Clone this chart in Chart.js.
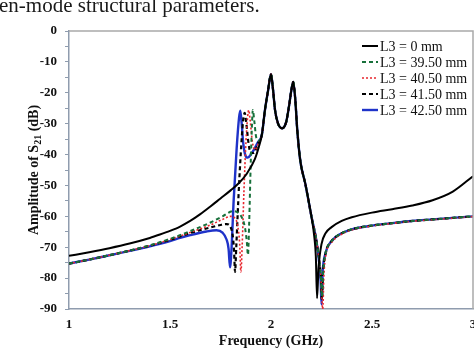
<!DOCTYPE html>
<html>
<head>
<meta charset="utf-8">
<script src="https://cdn.jsdelivr.net/npm/chart.js@4.4.1/dist/chart.umd.min.js"></script>
<style>
  html, body { margin: 0; padding: 0; background: #fff; overflow: hidden; }
  #wrap { width: 474px; height: 348px; position: relative; }
</style>
</head>
<body>
<div id="wrap"><canvas id="c" width="474" height="348"></canvas></div>
<script>
// Series names (legend order)
const seriesLabels = ['L3 = 0 mm', 'L3 = 39.50 mm', 'L3 = 40.50 mm', 'L3 = 41.50 mm', 'L3 = 42.50 mm'];

// L3 = 0 mm : frequency (GHz) and |S21| (dB)
const freqL0 = [1.0, 1.1, 1.2, 1.3, 1.4, 1.45, 1.5, 1.55, 1.6, 1.65, 1.7, 1.75, 1.8, 1.84, 1.88, 1.92, 1.94, 1.955, 1.97, 1.985, 2.0,
  2.01, 2.02, 2.035, 2.055, 2.075, 2.09, 2.1, 2.11, 2.12, 2.13, 2.145, 2.17, 2.2, 2.215, 2.222, 2.228, 2.235, 2.25, 2.27,
  2.3, 2.35, 2.4, 2.5, 2.6, 2.7, 2.8, 2.9, 3.0];
const dbL0 = [-72.8, -71.6, -70.3, -68.8, -67, -65.9, -64.7, -63.3, -61.5, -59.3, -56.8, -54.2, -51.6, -49.3, -46.2, -41.5, -37.5, -33.5, -25.6, -19.5, -14,
  -19, -25.6, -30, -31.5, -29.5, -24, -19.5, -16.5, -22, -32, -42, -49.5, -60, -67, -73, -86.5, -77, -69, -65.5,
  -63.5, -61.5, -60.3, -58.8, -57.7, -56.5, -54.8, -52, -47];

// L3 = 39.50 mm
const freqL39 = [1.0, 1.1, 1.2, 1.3, 1.4, 1.5, 1.6, 1.7, 1.76, 1.813, 1.84, 1.86, 1.872, 1.88, 1.886, 1.892, 1.9, 1.906, 1.91,
  1.917, 1.927, 1.94, 1.955, 1.97, 1.985, 2.0, 2.01, 2.02, 2.035, 2.055, 2.075, 2.09, 2.1, 2.11, 2.12, 2.13, 2.145, 2.17, 2.2,
  2.225, 2.24, 2.247, 2.252, 2.258, 2.27, 2.3, 2.35, 2.4, 2.5, 2.6, 2.7, 2.8, 2.9, 3.0];
const dbL39 = [-75.3, -74, -72.6, -71.1, -69.4, -67.3, -64.8, -62, -60, -58.3, -59, -61, -64, -68, -72.5, -62, -42, -30, -25.6,
  -29, -34.5, -35.5, -33.5, -25.6, -19.5, -14, -19, -25.6, -30, -31.5, -29.5, -24, -19.5, -16.5, -22, -32, -42, -49.5, -60,
  -68, -75, -80, -86, -78, -72, -68, -65.5, -64.2, -63, -62.2, -61.5, -61, -60.5, -60];

// L3 = 40.50 mm
const freqL40 = [1.0, 1.1, 1.2, 1.3, 1.4, 1.5, 1.6, 1.7, 1.76, 1.8, 1.82, 1.835, 1.845, 1.851, 1.857, 1.866, 1.876, 1.884, 1.89,
  1.897, 1.907, 1.92, 1.937, 1.955, 1.97, 1.985, 2.0, 2.01, 2.02, 2.035, 2.055, 2.075, 2.09, 2.1, 2.11, 2.12, 2.13, 2.145, 2.17, 2.2,
  2.225, 2.24, 2.248, 2.256, 2.262, 2.27, 2.3, 2.35, 2.4, 2.5, 2.6, 2.7, 2.8, 2.9, 3.0];
const dbL40 = [-75.3, -74, -72.6, -71.1, -69.5, -67.5, -65.2, -62.8, -61, -60, -60.5, -63, -69, -78, -70, -52, -36, -28, -25.6,
  -29, -35.5, -38.5, -36.5, -33.5, -25.6, -19.5, -14, -19, -25.6, -30, -31.5, -29.5, -24, -19.5, -16.5, -22, -32, -42, -49.5, -60,
  -68, -75, -81, -90, -79, -73, -68.5, -65.8, -64.4, -63.1, -62.3, -61.6, -61.1, -60.6, -60.1];

// L3 = 41.50 mm
const freqL41 = [1.0, 1.1, 1.2, 1.3, 1.4, 1.5, 1.6, 1.7, 1.75, 1.78, 1.8, 1.81, 1.817, 1.822, 1.828, 1.838, 1.85, 1.862, 1.87,
  1.878, 1.888, 1.9, 1.915, 1.935, 1.955, 1.97, 1.985, 2.0, 2.01, 2.02, 2.035, 2.055, 2.075, 2.09, 2.1, 2.11, 2.12, 2.13, 2.145,
  2.17, 2.2, 2.225, 2.24, 2.247, 2.252, 2.258, 2.27, 2.3, 2.35, 2.4, 2.5, 2.6, 2.7, 2.8, 2.9, 3.0];
const dbL41 = [-75.3, -74, -72.6, -71.1, -69.5, -67.6, -65.4, -63.6, -62.8, -62.5, -63.5, -66, -71, -78, -70, -55, -40, -29, -26.5,
  -30, -36, -39.5, -39.5, -36.5, -33.5, -25.6, -19.5, -14, -19, -25.6, -30, -31.5, -29.5, -24, -19.5, -16.5, -22, -32, -42,
  -49.5, -60, -68, -75, -80, -87, -78, -72, -68, -65.5, -64.2, -63, -62.2, -61.5, -61, -60.5, -60];

// L3 = 42.50 mm
const freqL42 = [1.0, 1.1, 1.2, 1.3, 1.4, 1.5, 1.55, 1.6, 1.68, 1.73, 1.76, 1.78, 1.79, 1.797, 1.805, 1.815, 1.83, 1.842, 1.848,
  1.855, 1.862, 1.872, 1.885, 1.9, 1.915, 1.935, 1.955, 1.97, 1.985, 2.0, 2.01, 2.02, 2.035, 2.055, 2.075, 2.09, 2.1, 2.11, 2.12,
  2.13, 2.145, 2.17, 2.2, 2.225, 2.24, 2.246, 2.25, 2.256, 2.27, 2.3, 2.35, 2.4, 2.5, 2.6, 2.7, 2.8, 2.9, 3.0];
const dbL42 = [-75.3, -74, -72.6, -71.2, -69.7, -68, -67, -66.1, -64.9, -64.5, -65.3, -67.5, -70.5, -76.5, -70, -55, -38, -28, -25.8,
  -30, -36, -40, -41, -40, -38.5, -36, -33.5, -25.6, -19.5, -14, -19, -25.6, -30, -31.5, -29.5, -24, -19.5, -16.5, -22,
  -32, -42, -49.5, -60, -68, -76, -81, -88.5, -78, -72, -68, -65.5, -64.2, -63, -62.2, -61.5, -61, -60.5, -60];

const serif = "'Liberation Serif', 'Times New Roman', serif";
const axisColor = '#8f9cae';

function toPoints(fs, ds) { return fs.map((f, i) => ({ x: f, y: ds[i] })); }

const datasets = [
  { label: seriesLabels[0], data: toPoints(freqL0, dbL0),   borderColor: '#000000', borderWidth: 2,   borderDash: [] },
  { label: seriesLabels[1], data: toPoints(freqL39, dbL39), borderColor: '#17703a', borderWidth: 2,   borderDash: [4, 3] },
  { label: seriesLabels[2], data: toPoints(freqL40, dbL40), borderColor: '#e8262e', borderWidth: 1.6, borderDash: [2, 2] },
  { label: seriesLabels[3], data: toPoints(freqL41, dbL41), borderColor: '#000000', borderWidth: 2.2, borderDash: [4, 3] },
  { label: seriesLabels[4], data: toPoints(freqL42, dbL42), borderColor: '#1f33c9', borderWidth: 2.4, borderDash: [] }
];

// Caption fragment, axis titles, frame and legend drawn on the canvas
const decorations = {
  id: 'decorations',
  afterDatasetsDraw(chart) {
    const ctx = chart.ctx;
    const a = chart.chartArea;
    ctx.save();

    // top and right frame lines
    ctx.strokeStyle = '#a9a9a9';
    ctx.lineWidth = 1.5;
    ctx.beginPath();
    ctx.moveTo(a.left, a.top); ctx.lineTo(a.right, a.top); ctx.lineTo(a.right, a.bottom);
    ctx.stroke();

    // legend inside the plot
    const lx = 362, lw = 16, ly0 = 46, step = 16;
    chart.data.datasets.forEach((ds, i) => {
      const y = ly0 + i * step;
      ctx.save();
      ctx.strokeStyle = ds.borderColor;
      ctx.lineWidth = ds.borderWidth;
      ctx.setLineDash(ds.borderDash);
      ctx.beginPath(); ctx.moveTo(lx, y); ctx.lineTo(lx + lw, y); ctx.stroke();
      ctx.restore();
      ctx.fillStyle = '#111';
      ctx.font = '14px ' + serif;
      ctx.textBaseline = 'middle';
      ctx.textAlign = 'left';
      ctx.fillText(ds.label, lx + lw + 2, y + 1);
    });

    // caption line above the chart
    ctx.fillStyle = '#1a1a1a';
    ctx.font = '21px ' + serif;
    ctx.textBaseline = 'alphabetic';
    ctx.textAlign = 'left';
    ctx.fillText('en-mode structural parameters.', -1, 12);

    // x axis title
    ctx.fillStyle = '#111';
    ctx.font = 'bold 14px ' + serif;
    ctx.textAlign = 'center';
    ctx.textBaseline = 'middle';
    ctx.fillText('Frequency (GHz)', (a.left + a.right) / 2, 341);

    // y axis title with subscript
    const main = 'bold 14px ' + serif, sub = 'bold 10px ' + serif;
    const p1 = 'Amplitude of S', p2 = '21', p3 = ' (dB)';
    ctx.font = main; const w1 = ctx.measureText(p1).width, w3 = ctx.measureText(p3).width;
    ctx.font = sub; const w2 = ctx.measureText(p2).width;
    const total = w1 + w2 + w3;
    ctx.translate(33, (a.top + a.bottom) / 2);
    ctx.rotate(-Math.PI / 2);
    ctx.textAlign = 'left';
    ctx.textBaseline = 'alphabetic';
    let x = -total / 2;
    ctx.font = main; ctx.fillText(p1, x, 5); x += w1;
    ctx.font = sub;  ctx.fillText(p2, x, 8); x += w2;
    ctx.font = main; ctx.fillText(p3, x, 5);

    ctx.restore();
  }
};

new Chart(document.getElementById('c'), {
  type: 'line',
  data: { datasets },
  options: {
    responsive: false,
    animation: false,
    devicePixelRatio: 1,
    layout: { padding: { top: 31, right: 1, left: 0, bottom: 0 } },
    plugins: { legend: { display: false }, tooltip: { enabled: false } },
    elements: {
      point: { radius: 0 },
      line: { cubicInterpolationMode: 'monotone', fill: false }
    },
    scales: {
      x: {
        type: 'linear', min: 1, max: 3,
        ticks: { stepSize: 0.5, autoSkip: false, maxRotation: 0, padding: 8, color: '#111',
                 font: { family: serif, size: 13, weight: 'bold' },
                 callback: v => String(Math.round(v * 10) / 10) },
        grid: { display: false, drawTicks: false },
        border: { display: true, color: axisColor, width: 1.5 },
        afterFit(s) { s.height = 39; s.paddingLeft = 0; s.paddingRight = 0; }
      },
      y: {
        type: 'linear', min: -90, max: 0,
        ticks: { stepSize: 5, autoSkip: false, padding: 8, color: '#111',
                 font: { family: serif, size: 13, weight: 'bold' },
                 callback: v => (v % 10 === 0 ? String(v) : '') },
        grid: { drawOnChartArea: false, drawTicks: true, tickLength: 4, color: axisColor },
        border: { display: true, color: axisColor, width: 1.5 },
        afterFit(s) { s.width = 69; }
      }
    }
  },
  plugins: [decorations]
});
</script>
</body>
</html>
